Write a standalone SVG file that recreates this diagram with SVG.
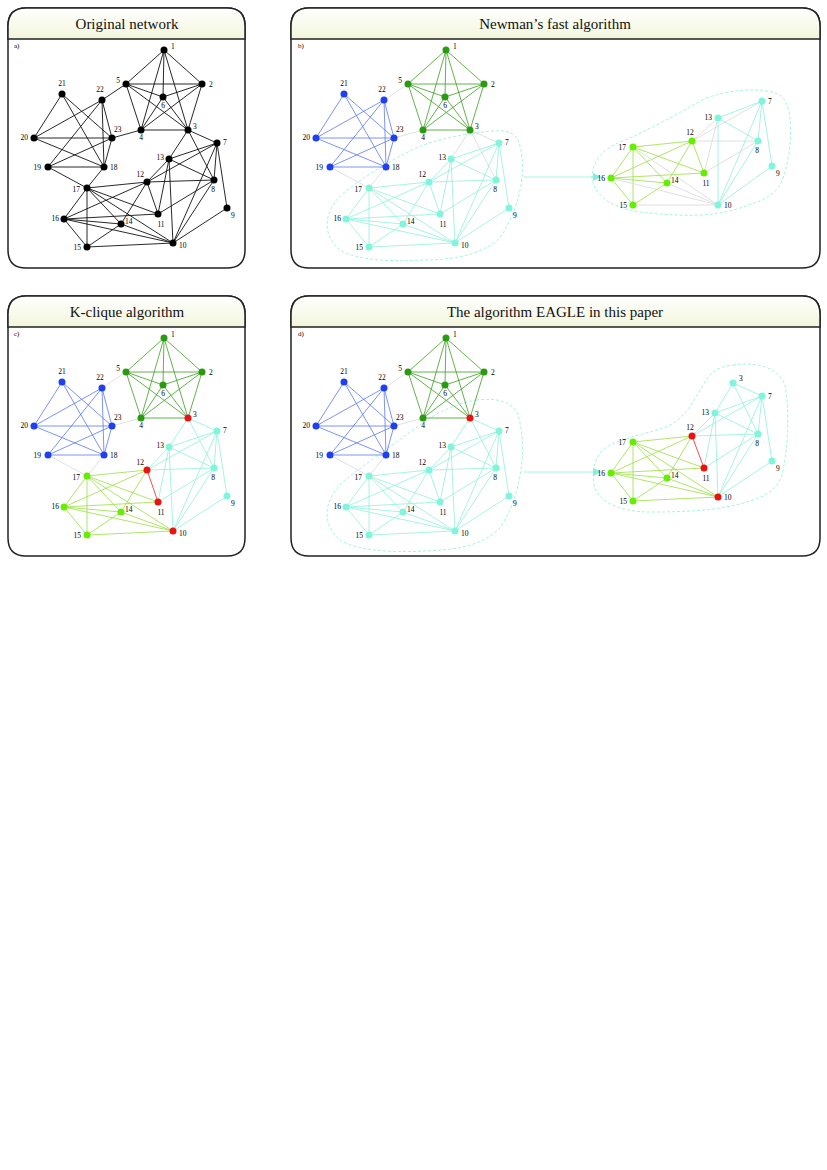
<svg xmlns="http://www.w3.org/2000/svg" width="827" height="1170" viewBox="0 0 827 1170">
<defs>
<linearGradient id="hg" x1="0" y1="0" x2="0" y2="1"><stop offset="0" stop-color="#ffffff"/><stop offset="1" stop-color="#f3f6dc"/></linearGradient>
<marker id="ar" markerWidth="8" markerHeight="8" refX="7" refY="4" orient="auto" markerUnits="userSpaceOnUse"><path d="M0,0 L8,4 L0,8 Z" fill="#7ff0dc"/></marker>
<g id="edges-base">
<line x1="164" y1="50" x2="202" y2="84" class="K"/><line x1="164" y1="50" x2="188" y2="130" class="K"/><line x1="164" y1="50" x2="141" y2="130" class="K"/><line x1="164" y1="50" x2="126" y2="84" class="K"/><line x1="164" y1="50" x2="163" y2="97" class="K"/><line x1="202" y1="84" x2="188" y2="130" class="K"/><line x1="202" y1="84" x2="141" y2="130" class="K"/><line x1="202" y1="84" x2="126" y2="84" class="K"/><line x1="202" y1="84" x2="163" y2="97" class="K"/><line x1="188" y1="130" x2="141" y2="130" class="K"/><line x1="188" y1="130" x2="126" y2="84" class="K"/><line x1="188" y1="130" x2="163" y2="97" class="K"/><line x1="141" y1="130" x2="126" y2="84" class="K"/><line x1="141" y1="130" x2="163" y2="97" class="K"/><line x1="126" y1="84" x2="163" y2="97" class="K"/>
<line x1="34" y1="138" x2="62" y2="94" class="B"/><line x1="34" y1="138" x2="102" y2="100" class="B"/><line x1="34" y1="138" x2="112" y2="138" class="B"/><line x1="34" y1="138" x2="104" y2="167" class="B"/><line x1="62" y1="94" x2="112" y2="138" class="B"/><line x1="62" y1="94" x2="104" y2="167" class="B"/><line x1="102" y1="100" x2="112" y2="138" class="B"/><line x1="102" y1="100" x2="104" y2="167" class="B"/><line x1="102" y1="100" x2="48" y2="167" class="B"/><line x1="48" y1="167" x2="112" y2="138" class="B"/><line x1="48" y1="167" x2="104" y2="167" class="B"/><line x1="112" y1="138" x2="104" y2="167" class="B"/>
<line x1="102" y1="100" x2="126" y2="84" class="X"/><line x1="112" y1="138" x2="141" y2="130" class="X"/><line x1="48" y1="167" x2="87" y2="188" class="X"/><line x1="104" y1="167" x2="87" y2="188" class="X"/>
<line x1="188" y1="130" x2="169" y2="159" class="Y"/><line x1="188" y1="130" x2="217" y2="143" class="Y"/><line x1="188" y1="130" x2="214" y2="180" class="Y"/>
<line x1="217" y1="143" x2="169" y2="159" class="C"/><line x1="217" y1="143" x2="147" y2="182" class="C"/><line x1="217" y1="143" x2="214" y2="180" class="C"/><line x1="217" y1="143" x2="227" y2="208" class="C"/><line x1="217" y1="143" x2="173" y2="243" class="C"/><line x1="169" y1="159" x2="214" y2="180" class="C"/><line x1="169" y1="159" x2="158" y2="214" class="C"/><line x1="169" y1="159" x2="173" y2="243" class="C"/><line x1="169" y1="159" x2="147" y2="182" class="C"/><line x1="147" y1="182" x2="214" y2="180" class="C"/><line x1="214" y1="180" x2="158" y2="214" class="C"/><line x1="214" y1="180" x2="173" y2="243" class="C"/><line x1="227" y1="208" x2="173" y2="243" class="C"/>
<line x1="147" y1="182" x2="158" y2="214" class="R"/>
<line x1="147" y1="182" x2="87" y2="188" class="L"/><line x1="147" y1="182" x2="121" y2="224" class="L"/><line x1="147" y1="182" x2="64" y2="219" class="L"/><line x1="87" y1="188" x2="64" y2="219" class="L"/><line x1="87" y1="188" x2="87" y2="247" class="L"/><line x1="87" y1="188" x2="121" y2="224" class="L"/><line x1="87" y1="188" x2="158" y2="214" class="L"/><line x1="87" y1="188" x2="173" y2="243" class="L"/><line x1="64" y1="219" x2="158" y2="214" class="L"/><line x1="64" y1="219" x2="121" y2="224" class="L"/><line x1="64" y1="219" x2="173" y2="243" class="L"/><line x1="64" y1="219" x2="87" y2="247" class="L"/><line x1="87" y1="247" x2="121" y2="224" class="L"/><line x1="87" y1="247" x2="173" y2="243" class="L"/><line x1="121" y1="224" x2="173" y2="243" class="L"/>
</g>
</defs>
<style>
text{font-family:"Liberation Serif","Times New Roman",serif;fill:#000}
.t{font-size:15px;text-anchor:middle;fill:#111}
.pl{font-size:7px}
.frame{fill:#fff;stroke:#222;stroke-width:1.5}
.hdr{fill:url(#hg);stroke:#222;stroke-width:1.5}
line{stroke-width:var(--w,0.8)}
.K{stroke:var(--K)}.B{stroke:var(--B)}.X{stroke:var(--X)}.Y{stroke:var(--Y)}.C{stroke:var(--C)}.R{stroke:var(--R)}.L{stroke:var(--L)}
.pa{--w:0.9;--K:#111;--B:#111;--X:#111;--Y:#111;--C:#111;--R:#111;--L:#111}
.pb{--K:#3aa020;--B:#5a78f0;--X:#d8d8d8;--Y:#d8d8d8;--C:#90f0dc;--R:#90f0dc;--L:#90f0dc}
.pc{--K:#3aa020;--B:#5a78f0;--X:#d8d8d8;--Y:#90f0dc;--C:#90f0dc;--R:#ee2222;--L:#99e040}
.pd{--K:#3aa020;--B:#5a78f0;--X:#d8d8d8;--Y:#90f0dc;--C:#90f0dc;--R:#90f0dc;--L:#90f0dc}
.n text{font-size:7.5px}
.e{text-anchor:end}
.m{text-anchor:middle}
.hull{fill:none;stroke:#8ef0dd;stroke-width:0.8;stroke-dasharray:3 2}
.g{fill:#2a9a10}.b{fill:#1f3ff0}.c{fill:#80f5dc}.l{fill:#66ee00}.r{fill:#ee1111}.k{fill:#000}
.cl{stroke:#90f0dc}.ll{stroke:#99e040}.xl{stroke:#d8d8d8}.rl{stroke:#ee2222}
</style>

<!-- frames -->
<g id="frame-a"><path class="frame" d="M8,250 V26 Q8,8 26,8 H227 Q245,8 245,26 V250 Q245,268 227,268 H26 Q8,268 8,250 Z"/><path class="hdr" d="M8,39 V26 Q8,8 26,8 H227 Q245,8 245,26 V39 Z"/><text class="t" x="127" y="29">Original network</text><text class="pl" x="14" y="48">a)</text></g>
<g id="frame-b"><path class="frame" d="M291,250 V26 Q291,8 309,8 H802 Q820,8 820,26 V250 Q820,268 802,268 H309 Q291,268 291,250 Z"/><path class="hdr" d="M291,39 V26 Q291,8 309,8 H802 Q820,8 820,26 V39 Z"/><text class="t" x="555" y="29">Newman’s fast algorithm</text><text class="pl" x="298" y="48">b)</text></g>
<g id="frame-c"><path class="frame" d="M8,538 V314 Q8,296 26,296 H227 Q245,296 245,314 V538 Q245,556 227,556 H26 Q8,556 8,538 Z"/><path class="hdr" d="M8,327 V314 Q8,296 26,296 H227 Q245,296 245,314 V327 Z"/><text class="t" x="127" y="317">K-clique algorithm</text><text class="pl" x="14" y="336">c)</text></g>
<g id="frame-d"><path class="frame" d="M291,538 V314 Q291,296 309,296 H802 Q820,296 820,314 V538 Q820,556 802,556 H309 Q291,556 291,538 Z"/><path class="hdr" d="M291,327 V314 Q291,296 309,296 H802 Q820,296 820,314 V327 Z"/><text class="t" x="555" y="317">The algorithm EAGLE in this paper</text><text class="pl" x="298" y="336">d)</text></g>

<!-- hulls and arrows -->
<g id="connectors">
<path class="hull" d="M476,133 C495,130 512,128 518,140 C526,160 525,200 500,238 C480,256 450,260 423,260 C390,262 355,260 340,250 C322,236 322,210 345,192 C370,172 400,155 423,145 C445,138 460,135 476,133 Z"/>
<path class="hull" d="M706,98 C730,90 760,86 780,95 C795,105 792,150 784,175 C778,195 765,200 740,208 C715,216 690,217 650,213 C620,211 595,200 592,178 C592,158 605,148 625,140 C645,132 685,110 706,98 Z"/>
<line x1="524" y1="177" x2="600" y2="177" class="cl" marker-end="url(#ar)"/>
<path class="hull" d="M476,400 C495,398 512,400 518,415 C526,440 525,490 500,528 C480,548 450,550 423,551 C390,553 355,550 340,540 C322,525 322,500 345,480 C370,460 400,440 420,425 C440,410 460,403 476,400 Z"/>
<path class="hull" d="M733,365 C755,362 778,366 785,385 C790,410 788,450 782,475 C776,492 765,497 740,504 C715,510 690,512 650,512 C620,512 598,502 594,485 C591,465 598,450 612,444 C630,436 655,432 670,425 C690,415 698,390 710,375 C716,368 725,366 733,365 Z"/>
<line x1="524" y1="472" x2="600" y2="472" class="cl" marker-end="url(#ar)"/>
</g>

<!-- panel a -->
<g class="pa"><use href="#edges-base"/></g>
<g class="n" id="nodes-a">
<g id="a1"><circle cx="164" cy="50" r="3.5" class="k"/><text x="171" y="49">1</text></g>
<g id="a2"><circle cx="202" cy="84" r="3.5" class="k"/><text x="209" y="87">2</text></g>
<g id="a3"><circle cx="188" cy="130" r="3.5" class="k"/><text x="193" y="129">3</text></g>
<g id="a4"><circle cx="141" cy="130" r="3.5" class="k"/><text x="141" y="140" class="m">4</text></g>
<g id="a5"><circle cx="126" cy="84" r="3.5" class="k"/><text x="120" y="83" class="e">5</text></g>
<g id="a6"><circle cx="163" cy="97" r="3.5" class="k"/><text x="163" y="108" class="m">6</text></g>
<g id="a7"><circle cx="217" cy="143" r="3.5" class="k"/><text x="223" y="145">7</text></g>
<g id="a8"><circle cx="214" cy="180" r="3.5" class="k"/><text x="213" y="192" class="m">8</text></g>
<g id="a9"><circle cx="227" cy="208" r="3.5" class="k"/><text x="231" y="218">9</text></g>
<g id="a10"><circle cx="173" cy="243" r="3.5" class="k"/><text x="179" y="248">10</text></g>
<g id="a11"><circle cx="158" cy="214" r="3.5" class="k"/><text x="161" y="227" class="m">11</text></g>
<g id="a12"><circle cx="147" cy="182" r="3.5" class="k"/><text x="144" y="177" class="e">12</text></g>
<g id="a13"><circle cx="169" cy="159" r="3.5" class="k"/><text x="164" y="160" class="e">13</text></g>
<g id="a14"><circle cx="121" cy="224" r="3.5" class="k"/><text x="125" y="224">14</text></g>
<g id="a15"><circle cx="87" cy="247" r="3.5" class="k"/><text x="81" y="250" class="e">15</text></g>
<g id="a16"><circle cx="64" cy="219" r="3.5" class="k"/><text x="59" y="221" class="e">16</text></g>
<g id="a17"><circle cx="87" cy="188" r="3.5" class="k"/><text x="80" y="192" class="e">17</text></g>
<g id="a18"><circle cx="104" cy="167" r="3.5" class="k"/><text x="110" y="170">18</text></g>
<g id="a19"><circle cx="48" cy="167" r="3.5" class="k"/><text x="41" y="170" class="e">19</text></g>
<g id="a20"><circle cx="34" cy="138" r="3.5" class="k"/><text x="28" y="140" class="e">20</text></g>
<g id="a21"><circle cx="62" cy="94" r="3.5" class="k"/><text x="62" y="86" class="m">21</text></g>
<g id="a22"><circle cx="102" cy="100" r="3.5" class="k"/><text x="100" y="92" class="m">22</text></g>
<g id="a23"><circle cx="112" cy="138" r="3.5" class="k"/><text x="114" y="132">23</text></g>
</g>

<!-- panel b -->
<g class="pb" transform="translate(282,0)"><use href="#edges-base"/></g>
<g class="n" id="nodes-b" transform="translate(282,0)">
<g id="b1"><circle cx="164" cy="50" r="3.5" class="g"/><text x="171" y="49">1</text></g>
<g id="b2"><circle cx="202" cy="84" r="3.5" class="g"/><text x="209" y="87">2</text></g>
<g id="b3"><circle cx="188" cy="130" r="3.5" class="g"/><text x="193" y="129">3</text></g>
<g id="b4"><circle cx="141" cy="130" r="3.5" class="g"/><text x="141" y="140" class="m">4</text></g>
<g id="b5"><circle cx="126" cy="84" r="3.5" class="g"/><text x="120" y="83" class="e">5</text></g>
<g id="b6"><circle cx="163" cy="97" r="3.5" class="g"/><text x="163" y="108" class="m">6</text></g>
<g id="b7"><circle cx="217" cy="143" r="3.5" class="c"/><text x="223" y="145">7</text></g>
<g id="b8"><circle cx="214" cy="180" r="3.5" class="c"/><text x="213" y="192" class="m">8</text></g>
<g id="b9"><circle cx="227" cy="208" r="3.5" class="c"/><text x="231" y="218">9</text></g>
<g id="b10"><circle cx="173" cy="243" r="3.5" class="c"/><text x="179" y="248">10</text></g>
<g id="b11"><circle cx="158" cy="214" r="3.5" class="c"/><text x="161" y="227" class="m">11</text></g>
<g id="b12"><circle cx="147" cy="182" r="3.5" class="c"/><text x="144" y="177" class="e">12</text></g>
<g id="b13"><circle cx="169" cy="159" r="3.5" class="c"/><text x="164" y="160" class="e">13</text></g>
<g id="b14"><circle cx="121" cy="224" r="3.5" class="c"/><text x="125" y="224">14</text></g>
<g id="b15"><circle cx="87" cy="247" r="3.5" class="c"/><text x="81" y="250" class="e">15</text></g>
<g id="b16"><circle cx="64" cy="219" r="3.5" class="c"/><text x="59" y="221" class="e">16</text></g>
<g id="b17"><circle cx="87" cy="188" r="3.5" class="c"/><text x="80" y="192" class="e">17</text></g>
<g id="b18"><circle cx="104" cy="167" r="3.5" class="b"/><text x="110" y="170">18</text></g>
<g id="b19"><circle cx="48" cy="167" r="3.5" class="b"/><text x="41" y="170" class="e">19</text></g>
<g id="b20"><circle cx="34" cy="138" r="3.5" class="b"/><text x="28" y="140" class="e">20</text></g>
<g id="b21"><circle cx="62" cy="94" r="3.5" class="b"/><text x="62" y="86" class="m">21</text></g>
<g id="b22"><circle cx="102" cy="100" r="3.5" class="b"/><text x="100" y="92" class="m">22</text></g>
<g id="b23"><circle cx="112" cy="138" r="3.5" class="b"/><text x="114" y="132">23</text></g>
</g>

<!-- panel b right cluster -->
<g id="edges-b-right">
<line x1="633" y1="147" x2="611" y2="178" class="ll"/><line x1="633" y1="147" x2="633" y2="205" class="ll"/><line x1="633" y1="147" x2="667" y2="183" class="ll"/><line x1="633" y1="147" x2="704" y2="173" class="ll"/><line x1="633" y1="147" x2="692" y2="141" class="ll"/><line x1="611" y1="178" x2="692" y2="141" class="ll"/><line x1="611" y1="178" x2="667" y2="183" class="ll"/><line x1="611" y1="178" x2="633" y2="205" class="ll"/><line x1="611" y1="178" x2="704" y2="173" class="ll"/><line x1="633" y1="205" x2="667" y2="183" class="ll"/><line x1="667" y1="183" x2="692" y2="141" class="ll"/><line x1="692" y1="141" x2="704" y2="173" class="ll"/>
<line x1="692" y1="141" x2="718" y2="118" class="xl"/><line x1="692" y1="141" x2="762" y2="101" class="xl"/><line x1="692" y1="141" x2="758" y2="141" class="xl"/><line x1="718" y1="118" x2="704" y2="173" class="xl"/><line x1="704" y1="173" x2="758" y2="141" class="xl"/><line x1="633" y1="147" x2="718" y2="205" class="xl"/><line x1="611" y1="178" x2="718" y2="205" class="xl"/><line x1="667" y1="183" x2="718" y2="205" class="xl"/><line x1="633" y1="205" x2="718" y2="205" class="xl"/>
<line x1="718" y1="118" x2="762" y2="101" class="cl"/><line x1="718" y1="118" x2="758" y2="141" class="cl"/><line x1="718" y1="118" x2="718" y2="205" class="cl"/><line x1="762" y1="101" x2="758" y2="141" class="cl"/><line x1="762" y1="101" x2="772" y2="166" class="cl"/><line x1="762" y1="101" x2="718" y2="205" class="cl"/><line x1="758" y1="141" x2="718" y2="205" class="cl"/><line x1="772" y1="166" x2="718" y2="205" class="cl"/>
</g>
<g class="n" id="nodes-b-right">
<g id="br7"><circle cx="762" cy="101" r="3.5" class="c"/><text x="768" y="104">7</text></g>
<g id="br13"><circle cx="718" cy="118" r="3.5" class="c"/><text x="712" y="120" class="e">13</text></g>
<g id="br12"><circle cx="692" cy="141" r="3.5" class="l"/><text x="690" y="135" class="m">12</text></g>
<g id="br8"><circle cx="758" cy="141" r="3.5" class="c"/><text x="757" y="153" class="m">8</text></g>
<g id="br17"><circle cx="633" cy="147" r="3.5" class="l"/><text x="626" y="150" class="e">17</text></g>
<g id="br16"><circle cx="611" cy="178" r="3.5" class="l"/><text x="605" y="181" class="e">16</text></g>
<g id="br11"><circle cx="704" cy="173" r="3.5" class="l"/><text x="706" y="186" class="m">11</text></g>
<g id="br14"><circle cx="667" cy="183" r="3.5" class="l"/><text x="671" y="183">14</text></g>
<g id="br9"><circle cx="772" cy="166" r="3.5" class="c"/><text x="776" y="176">9</text></g>
<g id="br15"><circle cx="633" cy="205" r="3.5" class="l"/><text x="627" y="208" class="e">15</text></g>
<g id="br10"><circle cx="718" cy="205" r="3.5" class="c"/><text x="724" y="208">10</text></g>
</g>

<!-- panel c -->
<g class="pc" transform="translate(0,288)"><use href="#edges-base"/></g>
<g class="n" id="nodes-c" transform="translate(0,288)">
<g id="c1"><circle cx="164" cy="50" r="3.5" class="g"/><text x="171" y="49">1</text></g>
<g id="c2"><circle cx="202" cy="84" r="3.5" class="g"/><text x="209" y="87">2</text></g>
<g id="c3"><circle cx="188" cy="130" r="3.5" class="r"/><text x="193" y="129">3</text></g>
<g id="c4"><circle cx="141" cy="130" r="3.5" class="g"/><text x="141" y="140" class="m">4</text></g>
<g id="c5"><circle cx="126" cy="84" r="3.5" class="g"/><text x="120" y="83" class="e">5</text></g>
<g id="c6"><circle cx="163" cy="97" r="3.5" class="g"/><text x="163" y="108" class="m">6</text></g>
<g id="c7"><circle cx="217" cy="143" r="3.5" class="c"/><text x="223" y="145">7</text></g>
<g id="c8"><circle cx="214" cy="180" r="3.5" class="c"/><text x="213" y="192" class="m">8</text></g>
<g id="c9"><circle cx="227" cy="208" r="3.5" class="c"/><text x="231" y="218">9</text></g>
<g id="c10"><circle cx="173" cy="243" r="3.5" class="r"/><text x="179" y="248">10</text></g>
<g id="c11"><circle cx="158" cy="214" r="3.5" class="r"/><text x="161" y="227" class="m">11</text></g>
<g id="c12"><circle cx="147" cy="182" r="3.5" class="r"/><text x="144" y="177" class="e">12</text></g>
<g id="c13"><circle cx="169" cy="159" r="3.5" class="c"/><text x="164" y="160" class="e">13</text></g>
<g id="c14"><circle cx="121" cy="224" r="3.5" class="l"/><text x="125" y="224">14</text></g>
<g id="c15"><circle cx="87" cy="247" r="3.5" class="l"/><text x="81" y="250" class="e">15</text></g>
<g id="c16"><circle cx="64" cy="219" r="3.5" class="l"/><text x="59" y="221" class="e">16</text></g>
<g id="c17"><circle cx="87" cy="188" r="3.5" class="l"/><text x="80" y="192" class="e">17</text></g>
<g id="c18"><circle cx="104" cy="167" r="3.5" class="b"/><text x="110" y="170">18</text></g>
<g id="c19"><circle cx="48" cy="167" r="3.5" class="b"/><text x="41" y="170" class="e">19</text></g>
<g id="c20"><circle cx="34" cy="138" r="3.5" class="b"/><text x="28" y="140" class="e">20</text></g>
<g id="c21"><circle cx="62" cy="94" r="3.5" class="b"/><text x="62" y="86" class="m">21</text></g>
<g id="c22"><circle cx="102" cy="100" r="3.5" class="b"/><text x="100" y="92" class="m">22</text></g>
<g id="c23"><circle cx="112" cy="138" r="3.5" class="b"/><text x="114" y="132">23</text></g>
</g>

<!-- panel d -->
<g class="pd" transform="translate(282,288)"><use href="#edges-base"/></g>
<g class="n" id="nodes-d" transform="translate(282,288)">
<g id="d1"><circle cx="164" cy="50" r="3.5" class="g"/><text x="171" y="49">1</text></g>
<g id="d2"><circle cx="202" cy="84" r="3.5" class="g"/><text x="209" y="87">2</text></g>
<g id="d3"><circle cx="188" cy="130" r="3.5" class="r"/><text x="193" y="129">3</text></g>
<g id="d4"><circle cx="141" cy="130" r="3.5" class="g"/><text x="141" y="140" class="m">4</text></g>
<g id="d5"><circle cx="126" cy="84" r="3.5" class="g"/><text x="120" y="83" class="e">5</text></g>
<g id="d6"><circle cx="163" cy="97" r="3.5" class="g"/><text x="163" y="108" class="m">6</text></g>
<g id="d7"><circle cx="217" cy="143" r="3.5" class="c"/><text x="223" y="145">7</text></g>
<g id="d8"><circle cx="214" cy="180" r="3.5" class="c"/><text x="213" y="192" class="m">8</text></g>
<g id="d9"><circle cx="227" cy="208" r="3.5" class="c"/><text x="231" y="218">9</text></g>
<g id="d10"><circle cx="173" cy="243" r="3.5" class="c"/><text x="179" y="248">10</text></g>
<g id="d11"><circle cx="158" cy="214" r="3.5" class="c"/><text x="161" y="227" class="m">11</text></g>
<g id="d12"><circle cx="147" cy="182" r="3.5" class="c"/><text x="144" y="177" class="e">12</text></g>
<g id="d13"><circle cx="169" cy="159" r="3.5" class="c"/><text x="164" y="160" class="e">13</text></g>
<g id="d14"><circle cx="121" cy="224" r="3.5" class="c"/><text x="125" y="224">14</text></g>
<g id="d15"><circle cx="87" cy="247" r="3.5" class="c"/><text x="81" y="250" class="e">15</text></g>
<g id="d16"><circle cx="64" cy="219" r="3.5" class="c"/><text x="59" y="221" class="e">16</text></g>
<g id="d17"><circle cx="87" cy="188" r="3.5" class="c"/><text x="80" y="192" class="e">17</text></g>
<g id="d18"><circle cx="104" cy="167" r="3.5" class="b"/><text x="110" y="170">18</text></g>
<g id="d19"><circle cx="48" cy="167" r="3.5" class="b"/><text x="41" y="170" class="e">19</text></g>
<g id="d20"><circle cx="34" cy="138" r="3.5" class="b"/><text x="28" y="140" class="e">20</text></g>
<g id="d21"><circle cx="62" cy="94" r="3.5" class="b"/><text x="62" y="86" class="m">21</text></g>
<g id="d22"><circle cx="102" cy="100" r="3.5" class="b"/><text x="100" y="92" class="m">22</text></g>
<g id="d23"><circle cx="112" cy="138" r="3.5" class="b"/><text x="114" y="132">23</text></g>
</g>

<!-- panel d right cluster -->
<g id="edges-d-right">
<line x1="733" y1="383" x2="762" y2="396" class="cl"/><line x1="733" y1="383" x2="715" y2="413" class="cl"/><line x1="733" y1="383" x2="758" y2="434" class="cl"/><line x1="715" y1="413" x2="762" y2="396" class="cl"/><line x1="715" y1="413" x2="692" y2="436" class="cl"/><line x1="715" y1="413" x2="758" y2="434" class="cl"/><line x1="715" y1="413" x2="704" y2="468" class="cl"/><line x1="715" y1="413" x2="718" y2="497" class="cl"/><line x1="692" y1="436" x2="762" y2="396" class="cl"/><line x1="692" y1="436" x2="758" y2="434" class="cl"/><line x1="704" y1="468" x2="758" y2="434" class="cl"/><line x1="762" y1="396" x2="758" y2="434" class="cl"/><line x1="762" y1="396" x2="772" y2="461" class="cl"/><line x1="762" y1="396" x2="718" y2="497" class="cl"/><line x1="758" y1="434" x2="718" y2="497" class="cl"/><line x1="772" y1="461" x2="718" y2="497" class="cl"/>
<line x1="692" y1="436" x2="704" y2="468" class="rl"/>
<line x1="633" y1="442" x2="611" y2="473" class="ll"/><line x1="633" y1="442" x2="633" y2="501" class="ll"/><line x1="633" y1="442" x2="667" y2="478" class="ll"/><line x1="633" y1="442" x2="704" y2="468" class="ll"/><line x1="633" y1="442" x2="692" y2="436" class="ll"/><line x1="633" y1="442" x2="718" y2="497" class="ll"/><line x1="611" y1="473" x2="692" y2="436" class="ll"/><line x1="611" y1="473" x2="667" y2="478" class="ll"/><line x1="611" y1="473" x2="704" y2="468" class="ll"/><line x1="611" y1="473" x2="718" y2="497" class="ll"/><line x1="611" y1="473" x2="633" y2="501" class="ll"/><line x1="633" y1="501" x2="667" y2="478" class="ll"/><line x1="633" y1="501" x2="718" y2="497" class="ll"/><line x1="667" y1="478" x2="692" y2="436" class="ll"/><line x1="667" y1="478" x2="718" y2="497" class="ll"/>
</g>
<g class="n" id="nodes-d-right">
<g id="dr3"><circle cx="733" cy="383" r="3.5" class="c"/><text x="739" y="381">3</text></g>
<g id="dr7"><circle cx="762" cy="396" r="3.5" class="c"/><text x="768" y="399">7</text></g>
<g id="dr13"><circle cx="715" cy="413" r="3.5" class="c"/><text x="709" y="415" class="e">13</text></g>
<g id="dr12"><circle cx="692" cy="436" r="3.5" class="r"/><text x="690" y="430" class="m">12</text></g>
<g id="dr8"><circle cx="758" cy="434" r="3.5" class="c"/><text x="757" y="446" class="m">8</text></g>
<g id="dr17"><circle cx="633" cy="442" r="3.5" class="l"/><text x="626" y="445" class="e">17</text></g>
<g id="dr16"><circle cx="611" cy="473" r="3.5" class="l"/><text x="605" y="476" class="e">16</text></g>
<g id="dr11"><circle cx="704" cy="468" r="3.5" class="r"/><text x="706" y="481" class="m">11</text></g>
<g id="dr14"><circle cx="667" cy="478" r="3.5" class="l"/><text x="671" y="478">14</text></g>
<g id="dr9"><circle cx="772" cy="461" r="3.5" class="c"/><text x="776" y="471">9</text></g>
<g id="dr15"><circle cx="633" cy="501" r="3.5" class="l"/><text x="627" y="504" class="e">15</text></g>
<g id="dr10"><circle cx="718" cy="497" r="3.5" class="r"/><text x="724" y="500">10</text></g>
</g>
</svg>
